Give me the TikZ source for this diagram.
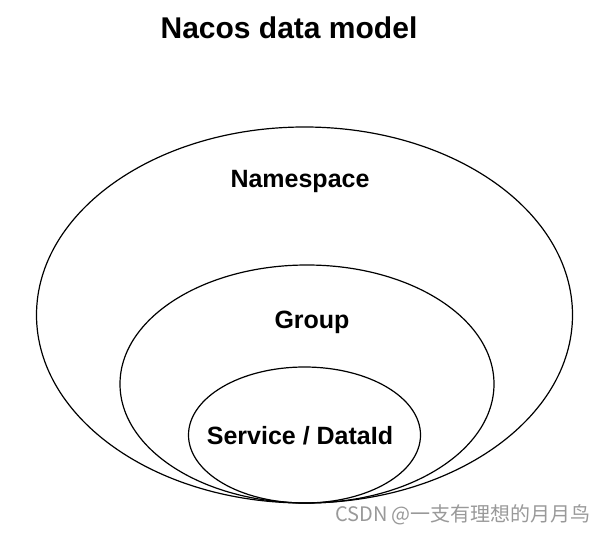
\documentclass[tikz,border=0pt]{standalone}
\usepackage{fontspec}
\setmainfont{Liberation Sans}
\newfontfamily\cjk{Noto Sans CJK SC}
\begin{document}
\begin{tikzpicture}[x=1pt,y=-1pt,
  ell/.style={draw=black,line width=1.2pt},
  lbl/.style={font=\bfseries\fontsize{25}{28}\selectfont}]
\useasboundingbox (0,0) rectangle (604,534);
\draw[ell] (304.5,315) ellipse [x radius=268, y radius=188];
\draw[ell] (307,384) ellipse [x radius=187, y radius=119];
\draw[ell] (304.5,435) ellipse [x radius=116, y radius=68];
\node[font=\bfseries\fontsize{30}{34}\selectfont] (title) at (289,28) {Nacos data model};
\node[lbl] (ns) at (300,181) {Namespace};
\node[lbl] (grp) at (312,322) {Group};
\node[lbl] (svc) at (300,436) {Service / DataId};
\node[text=gray!80,font=\cjk\fontsize{20}{22}\selectfont] (wm) at (463,515) {CSDN @一支有理想的月月鸟};
\end{tikzpicture}
\end{document}
